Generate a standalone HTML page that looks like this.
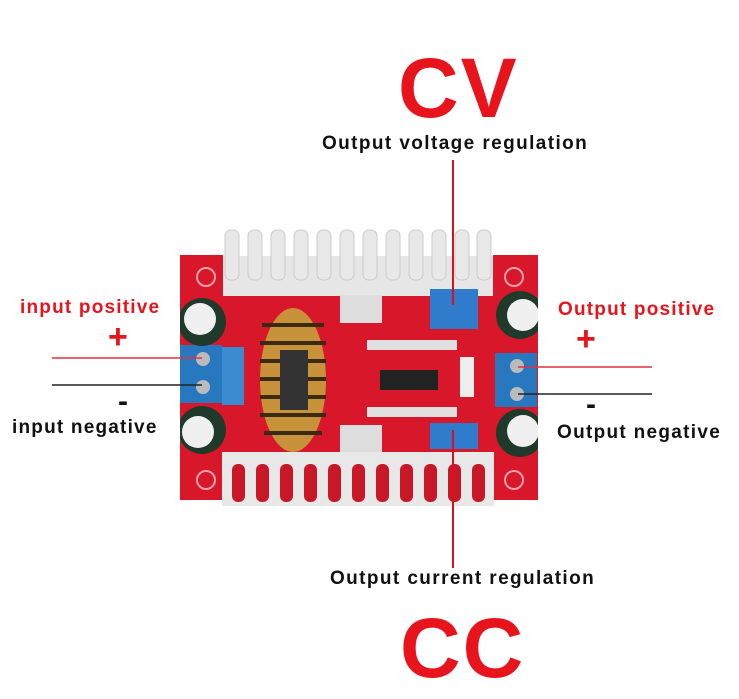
<!DOCTYPE html>
<html><head><style>
body{margin:0;width:739px;height:699px;background:#fff;position:relative;overflow:hidden;font-family:"Liberation Sans",sans-serif}
.a{position:absolute}
.t{position:absolute;font-weight:bold;white-space:nowrap}
</style></head><body>
<div class="t" style="left:398px;top:40px;font-size:84px;color:#e8141c;letter-spacing:2px">CV</div>
<div class="t" style="left:322px;top:133px;font-size:19px;letter-spacing:1.4px;color:#111">Output voltage regulation</div>
<div class="t" style="left:400px;top:600px;font-size:84px;color:#e8141c;letter-spacing:2px">CC</div>
<div class="t" style="left:330px;top:568px;font-size:19px;letter-spacing:1.4px;color:#111">Output current regulation</div>

<div class="t" style="left:20px;top:297px;font-size:19px;letter-spacing:1.2px;color:#e8141c">input positive</div>
<div class="t" style="left:108px;top:318px;font-size:34px;color:#e8141c">+</div>
<div class="t" style="left:118px;top:385px;font-size:30px;color:#111">-</div>
<div class="t" style="left:12px;top:417px;font-size:19px;letter-spacing:1.2px;color:#111">input negative</div>
<div class="t" style="left:558px;top:299px;font-size:19px;letter-spacing:1.2px;color:#e8141c">Output positive</div>
<div class="t" style="left:576px;top:320px;font-size:34px;color:#e8141c">+</div>
<div class="t" style="left:586px;top:388px;font-size:30px;color:#111">-</div>
<div class="t" style="left:557px;top:422px;font-size:19px;letter-spacing:1.3px;color:#111">Output negative</div>

<!-- heatsink top -->
<svg class="a" style="left:223px;top:226px" width="270" height="70">
<rect x="0" y="30" width="270" height="40" fill="#e6e6e6"/>
<g fill="#e8e8e8" stroke="#ccc">
<rect x="2" y="4" width="14" height="50" rx="6"/><rect x="25" y="4" width="14" height="50" rx="6"/><rect x="48" y="4" width="14" height="50" rx="6"/><rect x="71" y="4" width="14" height="50" rx="6"/><rect x="94" y="4" width="14" height="50" rx="6"/><rect x="117" y="4" width="14" height="50" rx="6"/><rect x="140" y="4" width="14" height="50" rx="6"/><rect x="163" y="4" width="14" height="50" rx="6"/><rect x="186" y="4" width="14" height="50" rx="6"/><rect x="209" y="4" width="14" height="50" rx="6"/><rect x="232" y="4" width="14" height="50" rx="6"/><rect x="254" y="4" width="14" height="50" rx="6"/>
</g></svg>
<!-- PCB -->
<div class="a" style="left:180px;top:255px;width:43px;height:245px;background:#d8182a"></div>
<div class="a" style="left:493px;top:255px;width:45px;height:245px;background:#d8182a"></div>
<div class="a" style="left:180px;top:290px;width:358px;height:210px;background:#d8182a"></div>
<div class="a" style="left:223px;top:290px;width:270px;height:6px;background:#e6e6e6"></div>
<svg class="a" style="left:180px;top:255px" width="358" height="245">
<g fill="#d8182a" stroke="#f3a0a8" stroke-width="2"><circle cx="26" cy="22" r="9"/><circle cx="334" cy="22" r="9"/><circle cx="26" cy="225" r="9"/><circle cx="334" cy="225" r="9"/></g>
<ellipse cx="113" cy="125" rx="33" ry="72" fill="#c8923a"/>
<g stroke="#3a2a14" stroke-width="4"><line x1="82" y1="70" x2="144" y2="70"/><line x1="80" y1="88" x2="146" y2="88"/><line x1="80" y1="106" x2="146" y2="106"/><line x1="80" y1="124" x2="146" y2="124"/><line x1="80" y1="142" x2="146" y2="142"/><line x1="80" y1="160" x2="146" y2="160"/><line x1="84" y1="178" x2="142" y2="178"/></g>
<rect x="100" y="95" width="28" height="60" fill="#333"/>
<rect x="160" y="40" width="42" height="28" fill="#ddd"/><rect x="160" y="170" width="42" height="28" fill="#ddd"/>
<rect x="200" y="115" width="58" height="20" fill="#222"/>
<g fill="#e0e0e0"><rect x="187" y="85" width="90" height="10"/><rect x="187" y="152" width="90" height="10"/></g>
<rect x="280" y="102" width="14" height="40" fill="#eee"/>
<rect x="250" y="34" width="48" height="40" fill="#2f7ccc"/><rect x="250" y="168" width="48" height="26" fill="#2f7ccc"/>
<rect x="0" y="90" width="42" height="58" fill="#2878c0"/><rect x="42" y="92" width="22" height="58" fill="#3a8ad0"/>
<rect x="315" y="98" width="42" height="54" fill="#2878c0"/>
<g fill="#bbb"><circle cx="23" cy="104" r="7"/><circle cx="23" cy="132" r="7"/><circle cx="337" cy="111" r="7"/><circle cx="337" cy="139" r="7"/></g>
<g fill="#1f3a2a"><circle cx="22" cy="67" r="24"/><circle cx="22" cy="175" r="24"/><circle cx="340" cy="60" r="24"/><circle cx="340" cy="178" r="24"/></g>
<g fill="#f0f0f0"><circle cx="20" cy="64" r="16"/><circle cx="18" cy="177" r="16"/><circle cx="343" cy="60" r="16"/><circle cx="343" cy="176" r="16"/></g>
</svg>
<svg class="a" style="left:222px;top:452px" width="272" height="54">
<rect width="272" height="54" fill="#e8e8e8"/>
<g fill="#c81828"><rect x="10" y="12" width="13" height="38" rx="6"/><rect x="34" y="12" width="13" height="38" rx="6"/><rect x="58" y="12" width="13" height="38" rx="6"/><rect x="82" y="12" width="13" height="38" rx="6"/><rect x="106" y="12" width="13" height="38" rx="6"/><rect x="130" y="12" width="13" height="38" rx="6"/><rect x="154" y="12" width="13" height="38" rx="6"/><rect x="178" y="12" width="13" height="38" rx="6"/><rect x="202" y="12" width="13" height="38" rx="6"/><rect x="226" y="12" width="13" height="38" rx="6"/><rect x="250" y="12" width="13" height="38" rx="6"/></g>
</svg>
<svg class="a" style="left:0;top:0" width="739" height="699">
<line x1="453" y1="160" x2="453" y2="305" stroke="#d81020" stroke-width="2"/>
<line x1="453" y1="430" x2="453" y2="568" stroke="#d81020" stroke-width="2"/>
<line x1="52" y1="358" x2="202" y2="358" stroke="#e03040" stroke-width="1.5"/>
<line x1="52" y1="385" x2="202" y2="385" stroke="#222" stroke-width="1.5"/>
<line x1="518" y1="367" x2="652" y2="367" stroke="#e03040" stroke-width="1.5"/>
<line x1="518" y1="394" x2="652" y2="394" stroke="#222" stroke-width="1.5"/>
</svg>
</body></html>
